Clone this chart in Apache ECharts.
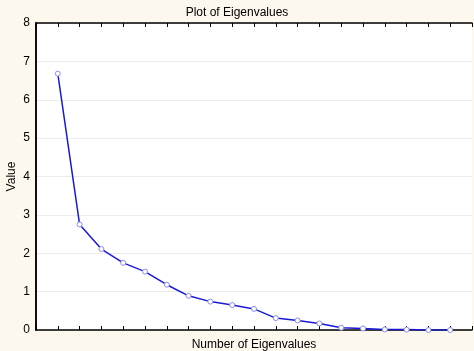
<!DOCTYPE html>
<html>
<head>
<meta charset="utf-8">
<script src="https://cdn.jsdelivr.net/npm/echarts@6/dist/echarts.min.js"></script>
<style>
html,body{margin:0;padding:0;background:#fdf8ed;}
#chart{width:474px;height:351px;}
</style>
</head>
<body>
<div id="chart"></div>
<script>
// eigenvalue number and its value
var eigenIndex = [1, 2, 3, 4, 5, 6, 7, 8, 9, 10, 11, 12, 13, 14, 15, 16, 17, 18, 19];
var eigenValues = [6.68, 2.75, 2.11, 1.75, 1.52, 1.18, 0.89, 0.74, 0.65, 0.55, 0.31, 0.25, 0.17, 0.06, 0.04, 0.015, 0.01, 0.0, 0.0];
var yTicks = [0, 1, 2, 3, 4, 5, 6, 7, 8];

var points = [];
for (var i = 0; i < eigenIndex.length; i++) {
    points.push([eigenIndex[i], eigenValues[i]]);
}

var xAxisBase = {
    type: 'value',
    min: 0,
    max: 20,
    interval: 1,
    axisLine: {show: true, onZero: false, lineStyle: {color: '#000', width: 1.5}},
    axisTick: {show: true, inside: true, length: 4, lineStyle: {color: '#000'}},
    axisLabel: {show: false},
    splitLine: {show: false}
};

var option = {
    backgroundColor: '#fdf8ed',
    animation: false,
    title: {
        text: 'Plot of Eigenvalues',
        left: 'center',
        top: 2,
        textStyle: {fontSize: 12, fontWeight: 'normal', color: '#000', fontFamily: 'Liberation Sans'}
    },
    grid: {left: 36, right: 2, top: 23, bottom: 21, backgroundColor: '#fff', show: true, borderWidth: 0,
        containLabel: false, outerBoundsMode: 'none'},
    xAxis: [
        Object.assign({}, xAxisBase, {
            position: 'bottom',
            name: 'Number of Eigenvalues',
            nameLocation: 'middle',
            nameGap: 9,
            nameMoveOverlap: false,
            nameTextStyle: {fontSize: 12, color: '#000', fontFamily: 'Liberation Sans'}
        }),
        Object.assign({}, xAxisBase, {position: 'top'})
    ],
    yAxis: [
        {
            type: 'value',
            min: 0,
            max: 8,
            interval: 1,
            name: 'Value',
            nameLocation: 'middle',
            nameGap: 18,
            nameMoveOverlap: false,
            nameTextStyle: {fontSize: 12, color: '#000', fontFamily: 'Liberation Sans'},
            axisLine: {show: true, lineStyle: {color: '#000', width: 1.5}},
            axisTick: {show: false},
            axisLabel: {
                fontSize: 12, color: '#000', margin: 6, fontFamily: 'Liberation Sans',
                formatter: function (v) { return yTicks.indexOf(v) >= 0 ? String(v) : ''; }
            },
            splitLine: {show: true, lineStyle: {color: '#ececec', width: 1}}
        },
        {
            type: 'value',
            min: 0,
            max: 8,
            interval: 1,
            position: 'right',
            axisLine: {show: true, lineStyle: {color: '#000', width: 1.5}},
            axisTick: {show: false},
            axisLabel: {show: false},
            splitLine: {show: false}
        }
    ],
    series: [
        {
            type: 'line',
            data: points,
            xAxisIndex: 0,
            yAxisIndex: 0,
            symbol: 'circle',
            symbolSize: 5,
            lineStyle: {color: '#1a1ad6', width: 1.5},
            itemStyle: {color: '#ffffff', borderColor: '#8c8cee', borderWidth: 1}
        }
    ]
};

var echartsobj = echarts.init(document.getElementById('chart'));
echartsobj.setOption(option);
</script>
</body>
</html>
